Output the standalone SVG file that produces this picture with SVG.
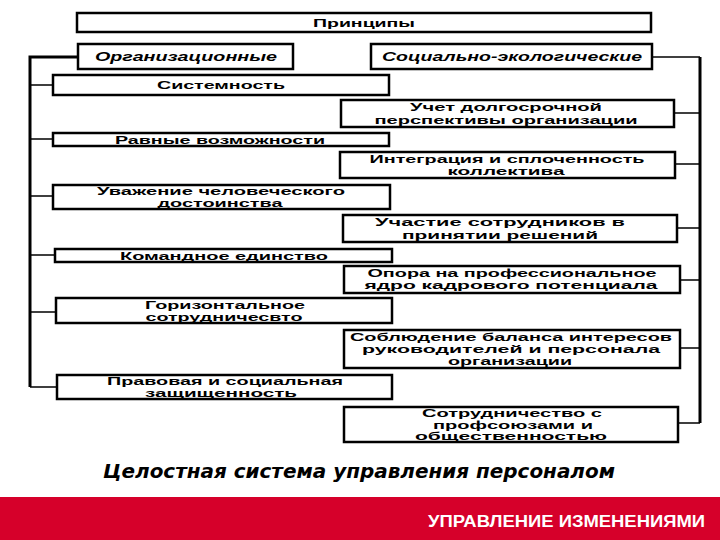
<svg xmlns="http://www.w3.org/2000/svg" width="720" height="540" viewBox="0 0 720 540">
<style>
.box{fill:#fff;stroke:#000;stroke-width:2.5}
.t{font-family:"Liberation Sans",Arial,sans-serif;font-weight:bold;font-size:11px;fill:#000;text-anchor:middle}
.i{font-style:italic;font-size:12px}
.bus{stroke:#000;stroke-width:3;fill:none}
.br{stroke:#000;stroke-width:1.5;fill:none}
</style>
<rect width="720" height="540" fill="#fff"/>
<g id="connectors">
<path class="bus" d="M78,57 H30 V387"/>
<path class="br" d="M30,85 H53 M30,139 H53 M30,196 H53 M30,255 H55 M30,312 H56 M30,387 H57"/>
<path class="br" d="M652,57 H700"/>
<path class="bus" d="M700,57 V423"/>
<path class="br" d="M674,113 H700 M675,164 H700 M677,228 H700 M680,280 H700 M680,348 H700 M678,423 H700"/>
</g>
<g id="principles"><rect class="box" x="77" y="13" width="574" height="19"/><text class="t" x="364" y="27" textLength="102" lengthAdjust="spacingAndGlyphs">Принципы</text></g>
<g id="org"><rect class="box" x="78" y="44" width="215" height="25"/><text class="t i" x="186" y="61" textLength="182" lengthAdjust="spacingAndGlyphs">Организационные</text></g>
<g id="soc"><rect class="box" x="371" y="44" width="281" height="25"/><text class="t i" x="512" y="61" textLength="260" lengthAdjust="spacingAndGlyphs">Социально-экологические</text></g>

<g id="l1"><rect class="box" x="53" y="75" width="336" height="20"/><text class="t" x="221" y="89" textLength="128" lengthAdjust="spacingAndGlyphs">Системность</text></g>
<g id="l2"><rect class="box" x="53" y="133" width="336" height="13"/><text class="t" x="220" y="143.5" textLength="210" lengthAdjust="spacingAndGlyphs">Равные возможности</text></g>
<g id="l3"><rect class="box" x="53" y="185" width="337" height="24"/><text class="t" x="221" y="195" textLength="248" lengthAdjust="spacingAndGlyphs">Уважение человеческого</text><text class="t" x="220" y="207" textLength="125" lengthAdjust="spacingAndGlyphs">достоинства</text></g>
<g id="l4"><rect class="box" x="55" y="249" width="337" height="13"/><text class="t" x="224" y="259.5" textLength="208" lengthAdjust="spacingAndGlyphs">Командное единство</text></g>
<g id="l5"><rect class="box" x="56" y="298" width="336" height="25"/><text class="t" x="225" y="309" textLength="160" lengthAdjust="spacingAndGlyphs">Горизонтальное</text><text class="t" x="224" y="321" textLength="157" lengthAdjust="spacingAndGlyphs">сотрудничесвто</text></g>
<g id="l6"><rect class="box" x="57" y="375" width="335" height="24"/><text class="t" x="225" y="385" textLength="236" lengthAdjust="spacingAndGlyphs">Правовая и социальная</text><text class="t" x="221" y="397" textLength="152" lengthAdjust="spacingAndGlyphs">защищенность</text></g>

<g id="r1"><rect class="box" x="341" y="100" width="333" height="27"/><text class="t" x="506" y="111" textLength="192" lengthAdjust="spacingAndGlyphs">Учет долгосрочной</text><text class="t" x="506" y="124" textLength="263" lengthAdjust="spacingAndGlyphs">перспективы организации</text></g>
<g id="r2"><rect class="box" x="340" y="152" width="335" height="26"/><text class="t" x="507" y="163" textLength="275" lengthAdjust="spacingAndGlyphs">Интеграция и сплоченность</text><text class="t" x="506" y="175" textLength="117" lengthAdjust="spacingAndGlyphs">коллектива</text></g>
<g id="r3"><rect class="box" x="343" y="215" width="334" height="27"/><text class="t" x="500" y="226" textLength="250" lengthAdjust="spacingAndGlyphs">Участие сотрудников в</text><text class="t" x="500" y="239" textLength="196" lengthAdjust="spacingAndGlyphs">принятии решений</text></g>
<g id="r4"><rect class="box" x="344" y="266" width="336" height="27"/><text class="t" x="512" y="277" textLength="289" lengthAdjust="spacingAndGlyphs">Опора на профессиональное</text><text class="t" x="511" y="289" textLength="293" lengthAdjust="spacingAndGlyphs">ядро кадрового потенциала</text></g>
<g id="r5"><rect class="box" x="344" y="330" width="336" height="38"/><text class="t" x="511" y="341" textLength="322" lengthAdjust="spacingAndGlyphs">Соблюдение баланса интересов</text><text class="t" x="511" y="353" textLength="298" lengthAdjust="spacingAndGlyphs">руководителей и персонала</text><text class="t" x="510" y="365" textLength="124" lengthAdjust="spacingAndGlyphs">организации</text></g>
<g id="r6"><rect class="box" x="344" y="407" width="334" height="35"/><text class="t" x="512" y="417" textLength="180" lengthAdjust="spacingAndGlyphs">Сотрудничество с</text><text class="t" x="513" y="429" textLength="160" lengthAdjust="spacingAndGlyphs">профсоюзами и</text><text class="t" x="511" y="440" textLength="192" lengthAdjust="spacingAndGlyphs">общественностью</text></g>

<text x="103" y="478" font-family="'DejaVu Sans',Verdana,sans-serif" font-weight="bold" font-style="italic" font-size="19" textLength="512" lengthAdjust="spacingAndGlyphs" fill="#000">Целостная система управления персоналом</text>
<rect x="0" y="497" width="720" height="43" fill="#d6002a"/>
<text x="428" y="527" font-family="'Liberation Sans',Arial,sans-serif" font-weight="bold" font-size="16" textLength="277" lengthAdjust="spacingAndGlyphs" fill="#fff">УПРАВЛЕНИЕ ИЗМЕНЕНИЯМИ</text>
</svg>
